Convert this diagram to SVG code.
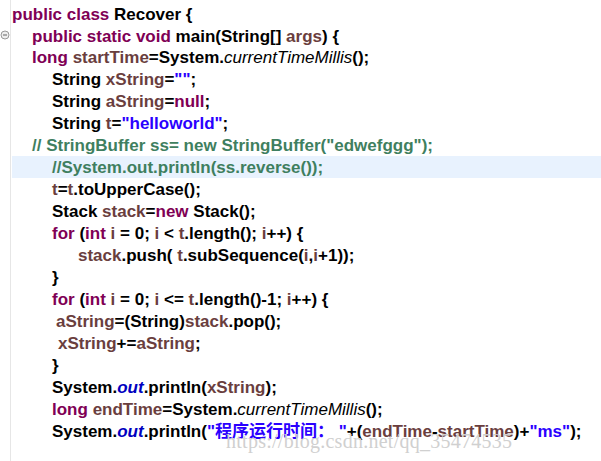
<svg xmlns="http://www.w3.org/2000/svg" width="601" height="461" viewBox="0 0 601 461">
<style>
text{font-family:"Liberation Sans","Noto Sans CJK SC",sans-serif;font-size:17px;font-weight:bold;fill:#000}
.k{fill:#7f0055}.v{fill:#6a3e3e}.s{fill:#2a00ff}.c{fill:#3f7f5f}.i{font-style:italic;font-weight:normal}.f{fill:#0000c0;font-style:italic}
.w{font-family:"Liberation Serif",serif;font-weight:normal;font-size:20px;fill:#d0d0d0}
</style>
<rect width="601" height="461" fill="#fff"/>
<line x1="10.5" y1="0" x2="10.5" y2="461" stroke="#e6e6e6"/>
<rect x="12" y="156" width="589" height="22" fill="#e8f2fe"/>
<circle cx="5" cy="35" r="4" fill="#eee" stroke="#999"/><line x1="3" y1="35" x2="7" y2="35" stroke="#666"/>
<g id="code">
<text x="12" y="20"><tspan class="k">public class</tspan> Recover {</text>
<text x="32" y="42"><tspan class="k">public static void</tspan> main(String[] <tspan class="v">args</tspan>) {</text>
<text x="32" y="63"><tspan class="k">long</tspan> <tspan class="v">startTime</tspan>=System.<tspan class="i">currentTimeMillis</tspan>();</text>
<text x="52" y="85">String <tspan class="v">xString</tspan>=<tspan class="s">""</tspan>;</text>
<text x="52" y="107">String <tspan class="v">aString</tspan>=<tspan class="k">null</tspan>;</text>
<text x="52" y="129">String <tspan class="v">t</tspan>=<tspan class="s">"helloworld"</tspan>;</text>
<text x="32" y="151" class="c">// StringBuffer ss= new StringBuffer("edwefggg");</text>
<text x="52" y="173" class="c">//System.out.println(ss.reverse());</text>
<text x="52" y="195"><tspan class="v">t</tspan>=<tspan class="v">t</tspan>.toUpperCase();</text>
<text x="52" y="217">Stack <tspan class="v">stack</tspan>=<tspan class="k">new</tspan> Stack();</text>
<text x="52" y="239"><tspan class="k">for</tspan> (<tspan class="k">int</tspan> <tspan class="v">i</tspan> = 0; <tspan class="v">i</tspan> &lt; <tspan class="v">t</tspan>.length(); <tspan class="v">i</tspan>++) {</text>
<text x="78" y="261"><tspan class="v">stack</tspan>.push( <tspan class="v">t</tspan>.subSequence(<tspan class="v">i</tspan>,<tspan class="v">i</tspan>+1));</text>
<text x="52" y="283">}</text>
<text x="52" y="305"><tspan class="k">for</tspan> (<tspan class="k">int</tspan> <tspan class="v">i</tspan> = 0; <tspan class="v">i</tspan> &lt;= <tspan class="v">t</tspan>.length()-1; <tspan class="v">i</tspan>++) {</text>
<text x="56" y="327"><tspan class="v">aString</tspan>=(String)<tspan class="v">stack</tspan>.pop();</text>
<text x="58" y="349"><tspan class="v">xString</tspan>+=<tspan class="v">aString</tspan>;</text>
<text x="52" y="371">}</text>
<text x="52" y="393">System.<tspan class="f">out</tspan>.println(<tspan class="v">xString</tspan>);</text>
<text x="52" y="415"><tspan class="k">long</tspan> <tspan class="v">endTime</tspan>=System.<tspan class="i">currentTimeMillis</tspan>();</text>
<text x="52" y="437">System.<tspan class="f">out</tspan>.println(<tspan class="s">"程序运行时间： "</tspan>+(<tspan class="v">endTime</tspan>-<tspan class="v">startTime</tspan>)+<tspan class="s">"ms"</tspan>);</text>
</g>
<text x="226" y="448" class="w" textLength="286">https://blog.csdn.net/qq_35474535</text>
</svg>
